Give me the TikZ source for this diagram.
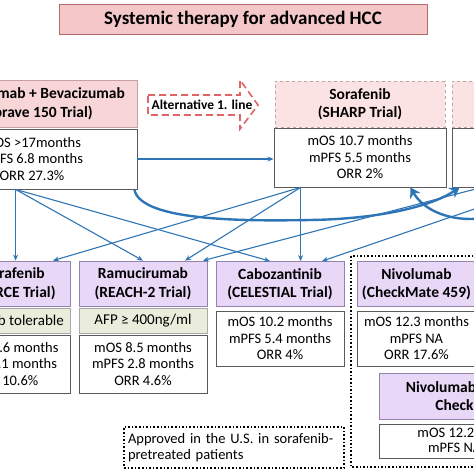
\documentclass[tikz,border=0pt]{standalone}
\usepackage{fontspec}
\setmainfont{Carlito}
\usepackage{xcolor}
\usepackage{tikz}
\usetikzlibrary{arrows.meta}

\definecolor{hdrfill}{HTML}{F4C7C9}
\definecolor{hdrline}{HTML}{B8696B}
\definecolor{firstfill}{HTML}{F8D6D7}
\definecolor{firstline}{HTML}{C9A0A1}
\definecolor{altfill}{HTML}{FBE3E3}
\definecolor{altline}{HTML}{C4A3A4}
\definecolor{altred}{HTML}{E06466}
\definecolor{datline}{HTML}{5A5A5A}
\definecolor{secfill}{HTML}{E8D7F6}
\definecolor{secline}{HTML}{9484AC}
\definecolor{condfill}{HTML}{EAEDDC}
\definecolor{condline}{HTML}{A8A8A8}
\definecolor{hccblue}{HTML}{2E75B6}

\begin{document}
\begin{tikzpicture}[x=1pt,y=-1pt,
    every node/.style={inner sep=0pt, align=center},
    hdr/.style={draw=hdrline, fill=hdrfill, line width=1pt,
        minimum width=368pt, minimum height=30pt,
        font=\bfseries\fontsize{19}{22}\selectfont},
    firstbox/.style={draw=firstline, fill=firstfill, line width=0.8pt,
        minimum width=210pt, minimum height=47pt,
        font=\bfseries\fontsize{15.5}{18.5}\selectfont},
    altbox/.style={draw=altline, fill=altfill, dashed, line width=0.8pt,
        minimum width=170pt, minimum height=46pt,
        font=\bfseries\fontsize{15.5}{18.5}\selectfont},
    secbox/.style={draw=secline, fill=secfill, line width=0.8pt,
        minimum width=128pt, minimum height=45pt,
        font=\bfseries\fontsize{15.5}{18.5}\selectfont},
    condbox/.style={draw=condline, fill=condfill, line width=0.8pt,
        minimum width=128pt, minimum height=25pt,
        font=\fontsize{15}{17}\selectfont},
    databox/.style={draw=datline, fill=white, line width=0.8pt,
        minimum width=128pt, minimum height=58pt,
        font=\fontsize{14.5}{16.5}\selectfont},
    thin/.style={draw=hccblue, line width=1.1pt, -{Stealth[length=6pt,width=5pt]}},
    bigarrow/.style={draw=hccblue, line width=2.4pt, -{Stealth[length=10pt,width=12pt]}}]

    \useasboundingbox (0,0) rectangle (474,474);

    % --- TITLE ---
    \node[hdr] (title) at (243,19) {Systemic therapy for advanced HCC};

    % --- FIRST line ---
    \node[firstbox] (atezo) at (32,103.5) {Atezolizumab + Bevacizumab\\(IMbrave 150 Trial)};
    \node[databox, minimum width=210pt, minimum height=60pt] (atezodata) at (32,159)
        {mOS >17months\\mPFS 6.8 months\\ORR 27.3\%};

    \draw[altred, dashed, line width=1.6pt, dash pattern=on 7pt off 4pt, fill=white]
        (148,95) -- (240,95) -- (240,80) -- (258,105) -- (240,129) -- (240,115) -- (148,115) -- cycle;
    \node[font=\bfseries\fontsize{13.5}{15}\selectfont] (alt) at (202,105) {Alternative 1. line};

    \node[altbox] (soraf) at (360,104) {Sorafenib\\(SHARP Trial)};
    \node[databox, minimum width=172pt, minimum height=59pt] (sorafdata) at (360,157.5)
        {mOS 10.7 months\\mPFS 5.5 months\\ORR 2\%};

    \node[altbox] (lenva) at (537,104) {};
    \node[databox, minimum width=172pt, minimum height=59pt] (lenvadata) at (538,157.5) {};

    % --- SECOND line ---
    \node[secbox] (rego) at (6,283.5) {Regorafenib\\(RESORCE Trial)};
    \node[condbox] (regocond) at (6,320.5) {Sorafenib tolerable};
    \node[databox] (regodata) at (6,364) {mOS 10.6 months\\mPFS 3.1 months\\ORR 10.6\%};

    \node[secbox] (ramu) at (143,283.5) {Ramucirumab\\(REACH-2 Trial)};
    \node[condbox] (ramucond) at (143,320.5) {AFP ≥ 400ng/ml};
    \node[databox] (ramudata) at (143,364) {mOS 8.5 months\\mPFS 2.8 months\\ORR 4.6\%};

    \node[secbox] (cabo) at (280,284) {Cabozantinib\\(CELESTIAL Trial)};
    \node[databox, minimum height=55pt] (cabodata) at (280,338.5) {mOS 10.2 months\\mPFS 5.4 months\\ORR 4\%};

    % --- dotted group ---
    \draw[line width=1.6pt, dotted] (351,256) rectangle (500,467);
    \node[secbox, minimum width=119pt] (nivo) at (416.5,284) {Nivolumab\\(CheckMate 459)};
    \node[databox, minimum width=119pt, minimum height=55pt] (nivodata) at (416.5,338.5)
        {mOS 12.3 months\\mPFS NA\\ORR 17.6\%};
    \node[secbox, minimum width=212pt, minimum height=46pt] (nivoipi) at (485,396)
        {Nivolumab + Ipilimumab\\CheckMate 040};
    \node[databox, minimum width=212pt, minimum height=34pt, font=\fontsize{14.5}{15.5}\selectfont]
        (nivoipidata) at (485,441) {mOS 12.2-22.8 months\\mPFS NA, ORR 32\%};

    \node[draw, line width=1.6pt, dotted, minimum width=220pt, minimum height=41pt,
        text width=212pt, align=left, font=\fontsize{14.5}{16.5}\selectfont] (approved) at (234,447.5)
        {Approved in the U.S. in sorafenib-\\pretreated patients};

    % --- thin connectors ---
    \coordinate (atzout) at ([xshift=89pt]atezodata.south west);
    \coordinate (sorout) at ([xshift=27pt]sorafdata.south west);
    \coordinate (lenout) at ([xshift=30pt]lenvadata.south west);
    \coordinate (lenout2) at ([xshift=86pt]lenvadata.south west);

    \draw[thin] (atezodata.east) -- (atezodata.east -| sorafdata.west);
    \draw[thin] (atzout) -- (atzout |- rego.north);
    \draw[thin] (atzout) -- (ramu.north);
    \draw[thin] (atzout) -- ([xshift=-10pt]cabo.north);
    \draw[thin] (sorout) -- ([xshift=47pt]rego.north);
    \draw[thin] (sorout) -- ([xshift=42pt]ramu.north);
    \draw[thin] (sorout) -- (sorout |- cabo.north);
    \draw[thin] (lenout) -- ([xshift=60pt]ramu.north);
    \draw[thin] (lenout2) -- ([xshift=42pt]cabo.north);

    % --- thick curves ---
    \draw[bigarrow] ([xshift=-3pt]atezodata.south east) .. controls (140,222) and (250,221) .. (310,220)
        .. controls (380,219) and (432,206) .. ([xshift=8pt]lenvadata.south west);
    \draw[bigarrow] ([xshift=78pt]lenvadata.south west) to[out=-115,in=-60] ([xshift=-36pt]sorafdata.south east);
\end{tikzpicture}
\end{document}
